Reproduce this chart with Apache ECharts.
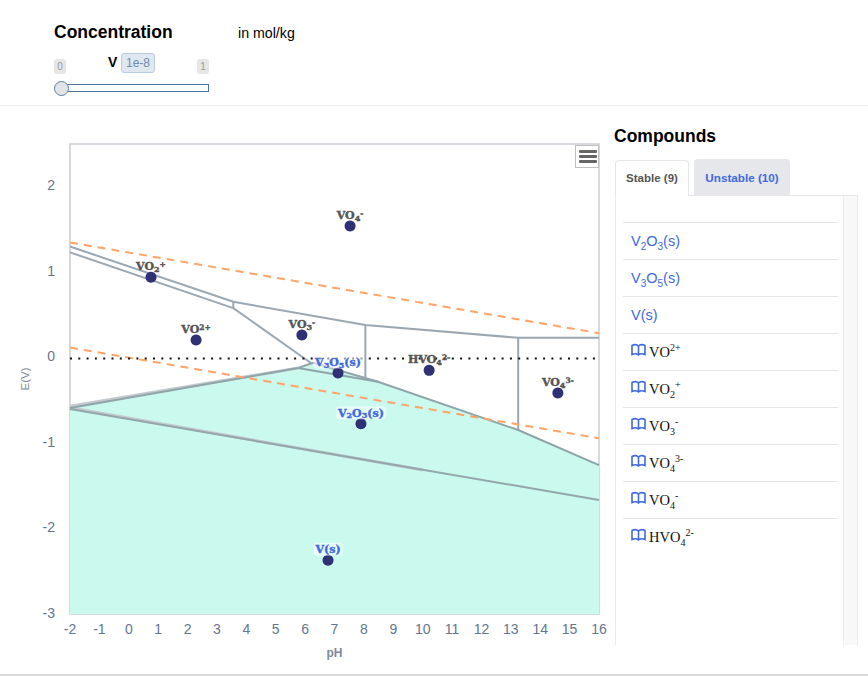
<!DOCTYPE html>
<html><head><meta charset="utf-8">
<style>
html,body{margin:0;padding:0;background:#fff;width:868px;height:676px;overflow:hidden;font-family:"Liberation Sans",Arial,sans-serif;color:#000}
.a{position:absolute;box-sizing:border-box}
#chart{position:absolute;left:0;top:0;width:868px;height:676px}
.badge{background:#e6e6e6;color:#9a9a9a;font-size:10px;border-radius:3px;text-align:center;line-height:15px;height:15px;width:12px;top:59px}
.sep{left:623px;width:215px;height:1px;background:#e6e6e6}
.row{left:631px;font-size:14.5px;line-height:20px;white-space:nowrap}
.blue{color:#4169e1}
.ser{font-family:"Liberation Serif",serif;font-size:14.5px;color:#111;position:absolute;left:18px;top:0}
sub,sup{font-size:10px;line-height:0}
svg.book{position:absolute;left:0;top:1px}
</style>
<script src="https://cdn.jsdelivr.net/npm/echarts@6/dist/echarts.min.js"></script>
</head><body>
<div id="chart"></div>
<div class="a" style="left:0;top:105px;width:868px;height:1px;background:#eeeeee"></div>
<div class="a" style="left:0;top:674px;width:868px;height:2px;background:#d8d8d8"></div>
<div class="a" style="left:54px;top:22px;font-size:17.5px;font-weight:bold;line-height:20px">Concentration</div>
<div class="a" style="left:238px;top:24px;font-size:14.2px;line-height:18px">in mol/kg</div>
<div class="a badge" style="left:54px">0</div>
<div class="a badge" style="left:197px">1</div>
<div class="a" style="left:108px;top:54px;font-size:14px;font-weight:bold;line-height:16px">V</div>
<div class="a" style="left:121px;top:53px;width:34px;height:20px;background:#dfe7f1;border:1px solid #b9cbe0;border-radius:3px;color:#6f8aab;font-size:12px;line-height:18px;text-align:center">1e-8</div>
<div class="a" style="left:61px;top:84px;width:148px;height:8px;border:1px solid #4d7096;background:#fff"></div>
<div class="a" style="left:54px;top:81px;width:15px;height:15px;border-radius:50%;background:#e1e5ea;border:1px solid #5f7fa2"></div>

<div class="a" style="left:575px;top:145px;width:24px;height:23px;background:#fff;border:1px solid #bfbfbf">
  <div class="a" style="left:3px;top:4px;width:18px;height:3px;background:#666;border-radius:1px"></div>
  <div class="a" style="left:3px;top:9px;width:18px;height:3px;background:#666;border-radius:1px"></div>
  <div class="a" style="left:3px;top:14px;width:18px;height:3px;background:#666;border-radius:1px"></div>
</div>

<div class="a" style="left:614px;top:126px;font-size:17.5px;font-weight:bold;line-height:20px">Compounds</div>
<div class="a" style="left:615px;top:195px;width:243px;height:1px;background:#e6e6e6"></div>
<div class="a" style="left:615px;top:160px;width:74px;height:36px;background:#fff;border:1px solid #e6e6e6;border-bottom:none;border-radius:4px 4px 0 0;font-size:11.5px;font-weight:bold;color:#555;text-align:center;line-height:35px">Stable (9)</div>
<div class="a" style="left:694px;top:159px;width:96px;height:36px;background:#e5e7eb;border-radius:4px 4px 0 0;font-size:11.7px;font-weight:bold;color:#4169e1;text-align:center;line-height:37px">Unstable (10)</div>
<div class="a" style="left:615px;top:196px;width:229px;height:449px;border-left:1px solid #ececec;border-right:1px solid #ececec;background:#fff"></div>
<div class="a" style="left:844px;top:196px;width:14px;height:449px;background:#f8f8f8;border-right:1px solid #ececec"></div>
<div class="a sep" style="top:222px"></div><div class="a sep" style="top:259px"></div><div class="a sep" style="top:296px"></div><div class="a sep" style="top:333px"></div>
<div class="a sep" style="top:370px"></div><div class="a sep" style="top:407px"></div><div class="a sep" style="top:444px"></div><div class="a sep" style="top:481px"></div><div class="a sep" style="top:518px"></div>
<div id="rows"></div>

<script>
// Page text
var solidRows = ["V<sub>2</sub>O<sub>3</sub>(s)", "V<sub>3</sub>O<sub>5</sub>(s)", "V(s)"];
var ionRows = ["VO<sup>2+</sup>", "VO<sub>2</sub><sup>+</sup>", "VO<sub>3</sub><sup>-</sup>", "VO<sub>4</sub><sup>3-</sup>", "VO<sub>4</sub><sup>-</sup>", "HVO<sub>4</sub><sup>2-</sup>"];

// Stability lines, [pH, E]
var waterUpper = [[-2, 1.348], [16, 0.286]];
var waterLower = [[-2, 0.118], [16, -0.944]];
var neutralLine = [[-2, -0.01], [16, -0.01]];
var edgeVO2a = [[-2, 1.30], [3.556, 0.654]];
var edgeVO2b = [[-2, 1.232], [3.556, 0.58]];
var edgeVO2c = [[3.556, 0.654], [3.556, 0.58]];
var edgeUpper = [[3.556, 0.654], [8.05, 0.382], [13.25, 0.232], [16, 0.232]];
var edgeVO3 = [[3.556, 0.58], [6.2, -0.063]];
var edgeV8 = [[8.05, 0.382], [8.05, -0.238]];
var edgeV13 = [[13.25, 0.232], [13.25, -0.847]];
var solidTop = [[-2, -0.59], [5.76, -0.122], [6.27, -0.06], [8.48, -0.282], [13.25, -0.847], [16, -1.257]];
var edgeV3O5 = [[5.76, -0.122], [8.48, -0.282]];
var edgeV2O3 = [[-2, -0.601], [16, -1.666]];
var paleUpper = [[-2, -0.57], [5.76, -0.122]];
var paleLower = [[-2, -0.585], [10, -1.315]];

// Compounds
var ionPoints = [[7.53, 1.54], [0.756, 0.94], [2.29, 0.206], [5.89, 0.264], [10.22, -0.149], [14.6, -0.414]];
var ionLabels = ["VO{s|4}{u|-}", "VO{s|2}{u|+}", "VO{u|2+}", "VO{s|3}{u|-}", "HVO{s|4}{u|2-}", "VO{s|4}{u|3-}"];
var solidPoints = [[7.12, -0.18], [7.9, -0.773], [6.78, -2.37]];
var solidLabels = ["V{s|3}O{s|5}(s)", "V{s|2}O{s|3}(s)", "V(s)"];

var book = '<svg class="book" width="15" height="14" viewBox="0 0 15 14"><path d="M1 2.5C3 1.5 6 1.5 7.5 3C9 1.5 12 1.5 14 2.5V11.5C12 10.7 9 10.7 7.5 12C6 10.7 3 10.7 1 11.5Z M7.5 3V12" fill="none" stroke="#4169e1" stroke-width="1.6"/></svg>';
var html = '';
var solidTops = [231, 268, 305], ionTops = [342, 379, 416, 453, 490, 527];
solidRows.forEach(function (t, i) { html += '<div class="a row blue" style="top:' + solidTops[i] + 'px">' + t + '</div>'; });
ionRows.forEach(function (t, i) { html += '<div class="a row" style="top:' + ionTops[i] + 'px">' + book + '<span class="ser">' + t + '</span></div>'; });
document.getElementById('rows').innerHTML = html;

function edge(data, color, width, z) {
  return { type: 'line', data: data, showSymbol: false, silent: true, animation: false, z: z || 3,
    lineStyle: { color: color || '#9aa8b3', width: width || 2 } };
}
var serif = 'DejaVu Serif';
function rich(color) {
  var halo = { textBorderColor: color, textBorderWidth: 0.4 };
  return {
    s: Object.assign({ fontFamily: serif, fontWeight: 'bold', fontSize: 8, color: color, verticalAlign: 'bottom', lineHeight: 12, padding: [3, 0, 0, 0] }, halo),
    u: Object.assign({ fontFamily: serif, fontWeight: 'bold', fontSize: 7.5, color: color, verticalAlign: 'top', lineHeight: 12, padding: [0, 0, 3, 0] }, halo)
  };
}
function pts(data, labels, color, bg) {
  return { type: 'scatter', symbolSize: 11, z: 6, animation: false,
    itemStyle: { color: '#2f3174', opacity: 1 },
    data: data.map(function (p, i) {
      return { value: p, label: { formatter: labels[i] } };
    }),
    label: { show: true, position: 'top', distance: -1, fontFamily: serif, fontWeight: 'bold', fontSize: 11, lineHeight: 12, color: color,
      textBorderColor: color, textBorderWidth: 0.4,
      backgroundColor: bg, borderRadius: 3, padding: [1, 2, 0, 2], rich: rich(color) } };
}

var chart = echarts.init(document.getElementById('chart'), null, { renderer: 'svg' });
var axisText = { color: '#64768c', fontSize: 14, fontFamily: 'Liberation Sans' };
chart.setOption({
  animation: false,
  grid: { left: 70, right: 269, top: 144, height: 470, show: true, backgroundColor: '#fff', borderColor: '#c9cdd2', borderWidth: 1.5 },
  xAxis: { type: 'value', min: -2, max: 16, interval: 1, name: 'pH', nameLocation: 'middle', nameGap: 33,
    nameTextStyle: { color: '#7b8a9c', fontSize: 12, fontWeight: 'bold', fontFamily: 'Liberation Sans' },
    axisLine: { show: false }, axisTick: { show: false }, splitLine: { show: false },
    axisLabel: Object.assign({ margin: 8, hideOverlap: false }, axisText) },
  yAxis: { type: 'value', min: -3, max: 2.5, interval: 1, name: 'E(V)', nameLocation: 'middle', nameGap: 39,
    nameTextStyle: { color: '#7b8a9c', fontSize: 11.5, fontFamily: 'Liberation Sans' },
    axisLine: { show: false }, axisTick: { show: false }, splitLine: { show: false },
    axisLabel: Object.assign({ margin: 15, showMaxLabel: false, lineHeight: 3, verticalAlign: 'bottom', formatter: function (v) { return v === 2.5 ? '' : String(v); } }, axisText) },
  series: [
    { type: 'line', data: solidTop, showSymbol: false, silent: true, z: 1, lineStyle: { width: 0 },
      areaStyle: { color: '#caf9ed', opacity: 1, origin: 'start' } },
    edge(paleUpper, '#c3c9cc', 3, 2),
    edge(paleLower, '#c3c9cc', 3, 2),
    edge(edgeVO2a), edge(edgeVO2b), edge(edgeVO2c), edge(edgeUpper), edge(edgeVO3),
    edge(edgeV8), edge(edgeV13), edge(solidTop, '#8fa5a9'), edge(edgeV3O5, '#8fa5a9'), edge(edgeV2O3, '#93a6ab'),
    { type: 'line', data: waterUpper, showSymbol: false, silent: true, z: 4, lineStyle: { color: '#ffa366', width: 2, type: [8, 6] } },
    { type: 'line', data: waterLower, showSymbol: false, silent: true, z: 4, lineStyle: { color: '#ffa366', width: 2, type: [8, 6] } },
    { type: 'line', data: neutralLine, showSymbol: false, silent: true, z: 5, lineStyle: { color: '#111', width: 2, type: [2, 6.3] } },
    pts(ionPoints, ionLabels, '#555555', 'transparent'),
    pts(solidPoints, solidLabels, '#4169e1', 'rgba(255,255,255,0.55)')
  ]
});
</script>
</body></html>
